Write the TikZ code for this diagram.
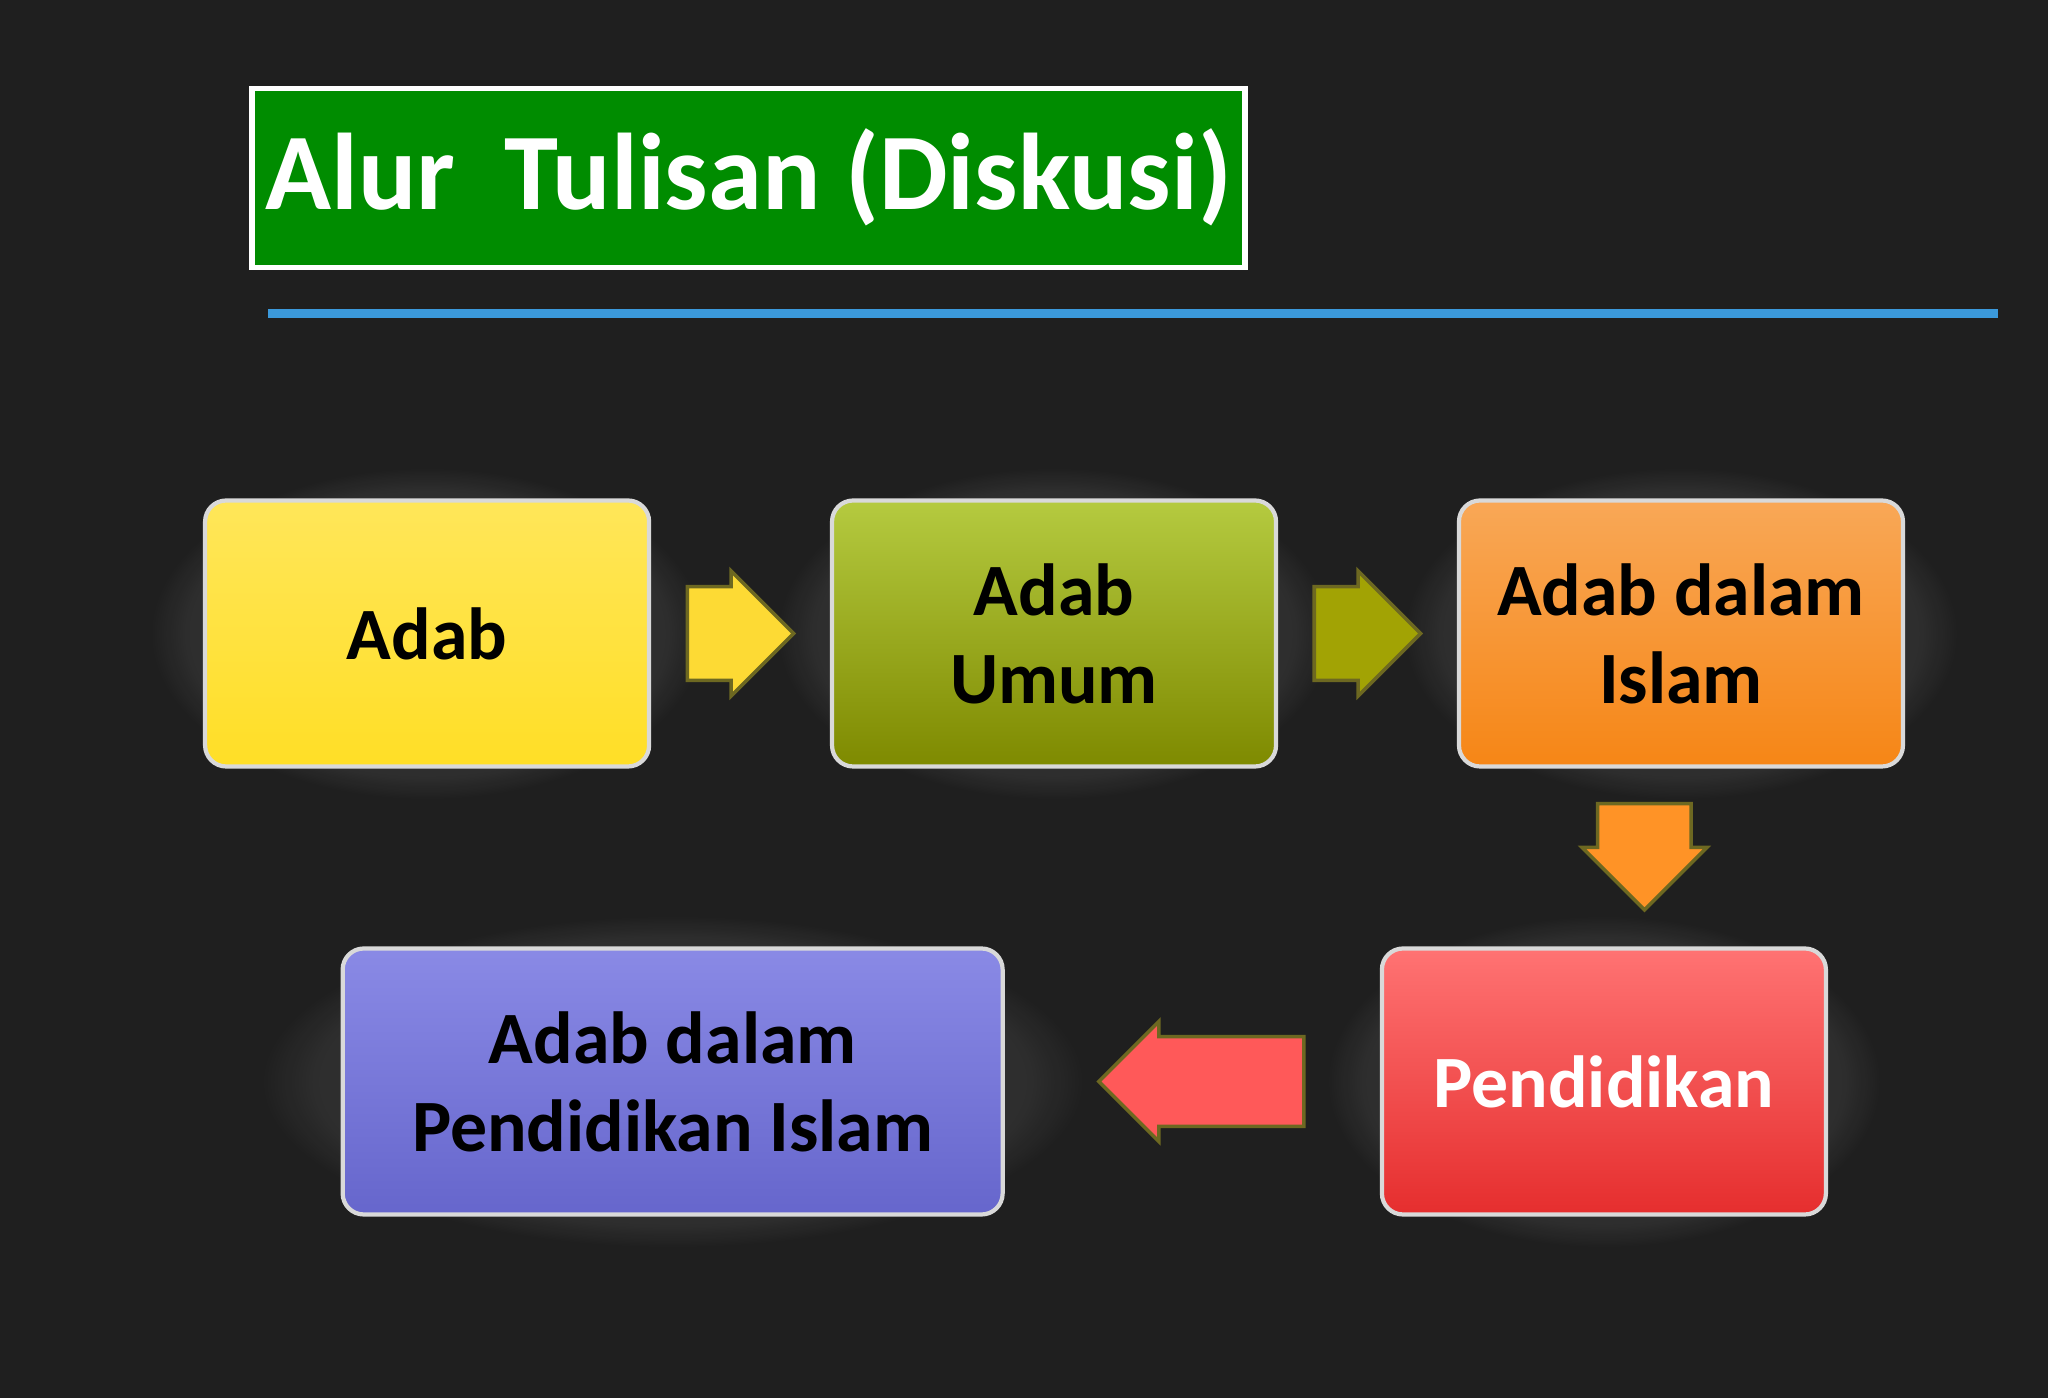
\documentclass[tikz,border=0pt]{standalone}
\usepackage{fontspec}
\setmainfont{Carlito}
\usetikzlibrary{shapes.arrows, positioning, calc, shadows}

\begin{document}
\begin{tikzpicture}[
    x=0.01306cm, y=-0.01306cm,
    box/.style={rectangle, draw=white!85!black, line width=1.2pt, rounded corners=6pt, minimum width=4.44cm, minimum height=2.66cm, align=center, font=\fontsize{21}{25}\selectfont\bfseries, text=black, circular glow={fill=white, opacity=0.07}},
    blockarrow/.style={single arrow, draw=olive!70!black, line width=1pt, inner sep=0.28cm, minimum width=1.25cm, minimum height=1.05cm, single arrow head extend=0.1cm}
]
    % board
    \fill[black!88] (0,0) rectangle (1568,1070);
    \useasboundingbox (0,0) rectangle (1568,1070);

    \node[rectangle, draw=white, line width=1.5pt, fill=green!55!black, minimum width=9.93cm, minimum height=1.79cm, text=white, font=\fontsize{31}{36}\selectfont\bfseries] (title) at (573,136) {Alur~ Tulisan (Diskusi)};
    \coordinate (ruleL) at (205,240);
    \coordinate (ruleR) at (1530,240);
    \draw[cyan!70!blue!80, line width=2.5pt] (ruleL) -- (ruleR);

    \node[box, top color=yellow!70!orange!65!white, bottom color=yellow!70!orange!85] (adab) at (327,485) {Adab};
    \node[box, top color=lime!45!olive!75, bottom color=olive!80!lime!90!black] (umum) at (807,485) {Adab\\Umum};
    \node[box, top color=orange!65!white!90!brown, bottom color=orange!85!brown!95] (islam) at (1287,485) {Adab dalam\\Islam};
    \node[box, top color=red!55!white, bottom color=red!80!white!90!black, text=white] (pend) at (1228,828) {Pendidikan};
    \node[box, minimum width=6.6cm, top color=blue!40!white!90!black, bottom color=blue!50!white!80!black] (pendis) at (515,828) {Adab dalam\\Pendidikan Islam};

    \node[blockarrow, fill=yellow!70!orange!80] (a1) at (549,485) {};
    \node[blockarrow, fill=olive!70!lime] (a2) at (1029,485) {};
    \node[blockarrow, fill=orange!85, rotate=-90] (a3) at (1259,638) {};
    \node[blockarrow, fill=red!65, rotate=180, minimum height=2.05cm, minimum width=1.2cm] (a4) at (937,828) {};
\end{tikzpicture}
\end{document}
